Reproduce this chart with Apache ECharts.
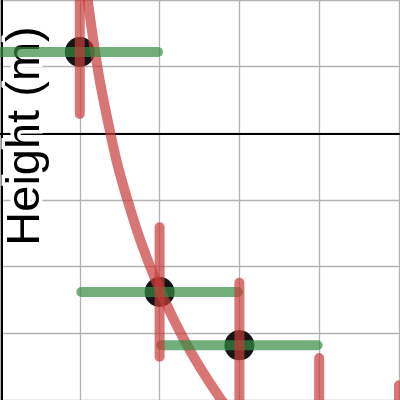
<!DOCTYPE html>
<html>
<head>
<meta charset="utf-8">
<script src="https://cdn.jsdelivr.net/npm/echarts@6/dist/echarts.min.js"></script>
<style>
html,body{margin:0;padding:0;background:#fff;}
#chart{width:400px;height:400px;}
</style>
</head>
<body>
<div id="chart"></div>
<script>
// Measured points (x, height) with error bars
var pointX = [1, 2, 3, 4, 5];
var pointY = [1.22, -2.38, -3.18, -4.32, -4.73];
var yErr = [0.93, 0.97, 0.94, 0.95, 0.95];
var xErr = [0.98, 0.98, 0.98, 0.98, 0.98];

// Model curve
var curveX = [1.06, 1.10, 1.17, 1.25, 1.35, 1.46, 1.60, 1.76, 1.95, 2.18, 2.45, 2.775, 3.06];
var curveY = [2.36, 1.99, 1.39, 0.79, 0.19, -0.41, -1.01, -1.61, -2.20, -2.80, -3.40, -4.0, -4.45];

var yLabel = 'Height (m)';

var RED = 'rgba(200,58,58,0.7)';
var GREEN = 'rgba(52,140,66,0.7)';

var pts = pointX.map(function (x, i) { return [x, pointY[i]]; });
var yErrData = pointX.map(function (x, i) { return [x, pointY[i], yErr[i]]; });
var xErrData = pointX.map(function (x, i) { return [x, pointY[i], xErr[i]]; });
var curve = curveX.map(function (x, i) { return [x, curveY[i]]; });

function errRenderer(vertical, color) {
  return function (params, api) {
    var x = api.value(0), y = api.value(1), e = api.value(2);
    var a, b;
    if (vertical) { a = api.coord([x, y - e]); b = api.coord([x, y + e]); }
    else { a = api.coord([x - e, y]); b = api.coord([x + e, y]); }
    return {
      type: 'line',
      shape: { x1: a[0], y1: a[1], x2: b[0], y2: b[1] },
      style: { stroke: color, lineWidth: 10, lineCap: 'round' }
    };
  };
}

var chart = echarts.init(document.getElementById('chart'), null, { renderer: 'canvas' });
chart.setOption({
  animation: false,
  backgroundColor: '#fff',
  grid: { left: -1, right: 1, top: -1, bottom: 0, containLabel: false },
  xAxis: {
    type: 'value', min: 0, max: 5, interval: 1,
    axisLabel: { show: false }, axisTick: { show: false },
    axisLine: { show: true, onZero: true, lineStyle: { color: '#000', width: 2 } },
    splitLine: { show: true, lineStyle: { color: '#b3b3b3', width: 1.3 } }
  },
  yAxis: {
    type: 'value', min: -4, max: 2, interval: 1, offset: -2,
    axisLabel: { show: false }, axisTick: { show: false },
    axisLine: { show: true, onZero: false, lineStyle: { color: '#000', width: 2 } },
    splitLine: { show: true, lineStyle: { color: '#b3b3b3', width: 1.3 } }
  },
  graphic: [{
    type: 'text',
    z: 1,
    x: 26.5, y: 136,
    rotation: Math.PI / 2,
    style: {
      text: yLabel,
      x: 0, y: 0,
      align: 'center', verticalAlign: 'middle',
      font: '47px "Liberation Sans", Arial, sans-serif',
      fill: '#000',
      stroke: '#fff', lineWidth: 7
    }
  }],
  series: [
    {
      type: 'scatter', data: pts, symbol: 'circle', symbolSize: 30, z: 2,
      itemStyle: { color: '#151515', opacity: 1 }, silent: true
    },
    {
      type: 'line', data: curve, smooth: 0.3, showSymbol: false, z: 3,
      lineStyle: { color: RED, width: 10, cap: 'round', join: 'round' }, silent: true
    },
    {
      type: 'custom', data: xErrData, z: 4, renderItem: errRenderer(false, GREEN), silent: true
    },
    {
      type: 'custom', data: yErrData, z: 5, renderItem: errRenderer(true, RED), silent: true
    }
  ]
});
</script>
</body>
</html>
